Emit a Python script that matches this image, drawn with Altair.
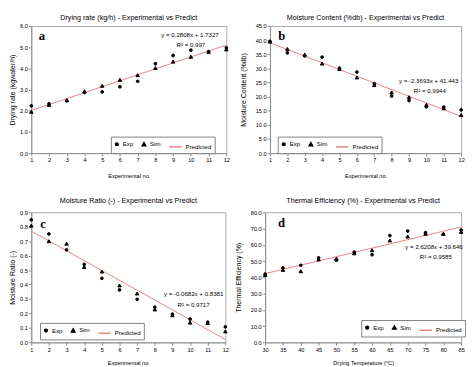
import altair as alt
import pandas as pd

# ---------------- data ----------------
exp_no = [1, 2, 3, 4, 5, 6, 7, 8, 9, 10, 11, 12]
temps = [30, 35, 40, 45, 50, 55, 60, 65, 70, 75, 80, 85]

dr_exp = [2.23, 2.33, 2.47, 2.86, 2.89, 3.13, 3.39, 4.22, 4.61, 4.86, 4.79, 4.97]
dr_sim = [1.95, 2.28, 2.50, 2.92, 3.18, 3.46, 3.68, 4.02, 4.32, 4.55, 4.78, 4.90]
dr_pred = [2.01, 5.10]

mc_exp = [39.6, 35.5, 34.4, 34.0, 30.1, 28.7, 24.6, 20.2, 18.6, 16.4, 16.3, 15.3]
mc_sim = [39.5, 36.9, 34.9, 31.7, 29.8, 26.8, 24.1, 21.5, 19.8, 17.1, 15.9, 13.5]
mc_pred = [39.07, 13.01]

mr_exp = [0.848, 0.750, 0.640, 0.540, 0.443, 0.363, 0.298, 0.243, 0.195, 0.161, 0.140, 0.107]
mr_sim = [0.808, 0.700, 0.683, 0.522, 0.490, 0.394, 0.338, 0.228, 0.188, 0.137, 0.133, 0.076]
mr_pred = [0.770, 0.020]

te_exp = [42.0, 45.8, 47.4, 52.0, 50.5, 55.5, 53.9, 65.7, 68.5, 67.5, 66.5, 69.0]
te_sim = [41.5, 44.6, 43.8, 51.0, 51.5, 54.8, 56.7, 62.7, 65.1, 66.8, 66.7, 68.0]
te_pred = [42.3, 71.0]

SERIES = ["Exp", "Sim", "Predicted"]

ticks_a = [0, 1, 2, 3, 4, 5, 6]
ticks_b = [0, 5, 10, 15, 20, 25, 30, 35, 40, 45]
ticks_c = [0, 0.1, 0.2, 0.3, 0.4, 0.5, 0.6, 0.7, 0.8, 0.9]
ticks_d = [0, 10, 20, 30, 40, 50, 60, 70, 80]

# ---------------- style ----------------
RED = "#e68383"
FONT = "Liberation Sans"


def panel(title, xs, exp, sim, pred, xdom, xtitle, ydom, yticks, ytitle,
          letter, letter_at, eq, eq_at, r2, r2_at, w, h, leg_at, title_off, ypad, xpad):
    pts = pd.DataFrame({"x": xs + xs, "y": exp + sim,
                        "series": ["Exp"] * len(xs) + ["Sim"] * len(xs)})
    fit = pd.DataFrame({"x": [xs[0], xs[-1]], "y": pred})
    X = alt.X("x:Q", scale=alt.Scale(domain=xdom, nice=False, zero=False),
              axis=alt.Axis(values=xs, format="d", title=xtitle, labelFlush=False,
                            titlePadding=xpad))
    Y = alt.Y("y:Q", scale=alt.Scale(domain=ydom, nice=False, zero=False),
              axis=alt.Axis(values=yticks, format=".1f", title=ytitle, labelFlush=False,
                            titlePadding=ypad))
    leg = alt.Legend(orient="none", legendX=leg_at[0], legendY=leg_at[1],
                     direction="horizontal", title=None, labelFont=FONT,
                     labelFontSize=6.3, labelColor="#000", strokeColor="#808080",
                     fillColor="white", padding=3, columnPadding=5, labelOffset=3)
    shape = alt.Shape("series:N", legend=leg,
                      scale=alt.Scale(domain=SERIES, range=["circle", "triangle-up", "stroke"]))
    fill = alt.Fill("series:N", legend=leg,
                    scale=alt.Scale(domain=SERIES, range=["#000000", "#000000", RED]))
    stroke = alt.Stroke("series:N", legend=leg,
                        scale=alt.Scale(domain=SERIES, range=["#000000", "#000000", RED]))
    size = alt.Size("series:N", legend=leg,
                    scale=alt.Scale(type="ordinal", domain=SERIES, range=[8, 13, 160]))

    line = alt.Chart(fit).mark_line(color=RED, strokeWidth=1).encode(x=X, y=Y)
    points = alt.Chart(pts).mark_point(filled=True, opacity=1, strokeWidth=1).encode(
        x=X, y=Y, shape=shape, fill=fill, stroke=stroke, size=size)
    let = alt.Chart(pd.DataFrame({"x": [letter_at[0]], "y": [letter_at[1]], "t": [letter]})
                    ).mark_text(font="Liberation Serif", fontWeight="bold", fontSize=13,
                                color="#000").encode(x=X, y=Y, text="t:N")
    eqs = alt.Chart(pd.DataFrame({"x": [eq_at[0], r2_at[0]], "y": [eq_at[1], r2_at[1]],
                                  "t": [eq, r2]})
                    ).mark_text(font=FONT, fontSize=6.3, color="#000").encode(x=X, y=Y, text="t:N")
    return alt.layer(line, points, let, eqs).properties(
        width=w, height=h,
        title=alt.TitleParams(title, fontSize=7.4, offset=title_off, font=FONT,
                              fontWeight="normal", color="#000"))


pa = panel("Drying rate (kg/h) - Experimental vs Predict", exp_no, dr_exp, dr_sim, dr_pred,
           [1, 12], "Experimental no.", [0, 6], ticks_a, "Drying rate (kgwater/h)",
           "a", (1.6, 5.5), "y = 0.2808x + 1.7327", (9.95, 5.58), "R² = 0.997", (10.0, 5.09),
           201, 131, (82, 114), 2, 3, 10)
pb = panel("Moisture Content (%db) - Experimental vs Predict", exp_no, mc_exp, mc_sim, mc_pred,
           [1, 12], "Experimental no.", [0, 45], ticks_b, "Moisture Content (%db)",
           "b", (1.67, 41.5), "y = -2.3693x + 41.443", (10.13, 25.6), "R² = 0.9944", (10.2, 21.9),
           197, 131, (8, 114), 2, 8, 10)
pc = panel("Moisture Ratio (-) - Experimental vs Predict", exp_no, mr_exp, mr_sim, mr_pred,
           [1, 12], "Experimental no.", [0, 0.9], ticks_c, "Moisture Ratio (-)",
           "c", (1.66, 0.82), "y = -0.0682x + 0.8381", (10.2, 0.336), "R² = 0.9717", (10.2, 0.255),
           200, 134, (9, 114), 5, 3, 8)
pd_ = panel("Thermal Efficiency (%) - Experimental vs Predict", temps, te_exp, te_sim, te_pred,
            [30, 85], "Drying Temperature (°C)", [0, 80], ticks_d, "Thermal Efficiency (%)",
            "d", (34.6, 73.4), "y = 2.6208x + 39.646", (77.4, 58.5), "R² = 0.9585", (77.9, 52.5),
            202, 134, (99, 111), 5, 8, 8)

indep = dict(shape="independent", fill="independent", stroke="independent",
             size="independent")
row1 = alt.hconcat(pa, pb, spacing=8).resolve_scale(**indep)
row2 = alt.hconcat(pc, pd_, spacing=4).resolve_scale(**indep)

chart = (
    alt.vconcat(row1, row2, spacing=18)
    .resolve_scale(**indep)
    .properties(padding=0)
    .configure(font=FONT)
    .configure_view(stroke="#a8a8a8", strokeWidth=1)
    .configure_axis(grid=False, domainColor="#8c8c8c", tickColor="#8c8c8c", tickSize=3,
                    labelPadding=1, labelFontSize=5.8, labelColor="#000", titleColor="#000",
                    titleFontWeight="normal", labelFont=FONT, titleFont=FONT)
    .configure_axisX(titleFontSize=5.8)
    .configure_axisY(titleFontSize=7.2)
)

chart.save("out.html", embed_options={"renderer": "svg", "actions": False})
